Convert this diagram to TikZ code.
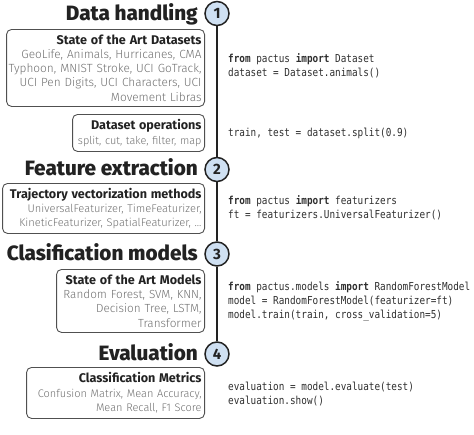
\documentclass[tikz,border=0pt]{standalone}
\usepackage{fontspec}
\setmainfont{Fira Sans}
\newfontfamily\headfont{Fira Sans ExtraBold}
\newfontfamily\bodyfont{Fira Sans Light}
\newfontfamily\codefont[FakeStretch=0.85]{DejaVu Sans Mono}
\definecolor{boxc}{HTML}{505050}
\definecolor{titlec}{HTML}{222222}
\definecolor{bodyc}{HTML}{707070}
\definecolor{codec}{HTML}{2E2E2E}
\definecolor{circfill}{HTML}{CFE0F2}
\tikzset{
  x=1pt, y=-1pt,
  stagetitle/.style={anchor=base east, inner sep=0pt, text=titlec, font=\headfont\fontsize{20.7}{24}\selectfont},
  stagenum/.style={circle, draw=titlec, line width=1.5pt, fill=circfill, minimum size=24pt, inner sep=0pt, text=titlec, font=\fontsize{15}{16}\selectfont\bfseries},
  infobox/.style={draw=boxc, line width=0.9pt, rounded corners=5pt, align=right, anchor=north east, inner xsep=3pt, inner ysep=1pt, text=bodyc},
  bodysize/.style={font=\bodyfont\fontsize{#1}{14.3}\selectfont},
  codeline/.style={anchor=base west, inner sep=0pt, text=codec, font=\codefont\fontsize{11}{14}\selectfont},
  spine/.style={draw=titlec, line width=1.5pt}
}
\newcommand{\bxt}[1]{\makebox[\linewidth][r]{\normalfont\color{titlec}\bfseries\fontsize{12.6}{15}\selectfont #1}}
\newcommand{\rl}[1]{\makebox[\linewidth][r]{#1}}
\begin{document}
\begin{tikzpicture}
\useasboundingbox (0,0) rectangle (474,434);
% stage circles
\node[stagenum] (c1) at (217,13.5) {1};
\node[stagenum] (c2) at (217,169.5) {2};
\node[stagenum] (c3) at (217,254) {3};
\node[stagenum] (c4) at (217,354) {4};
\draw[spine] (c1.south) -- (c2.north);
\draw[spine] (c2.south) -- (c3.north);
\draw[spine] (c3.south) -- (c4.north);
% titles
\node[stagetitle] (t1) at (198,20) {Data handling};
\node[stagetitle] (t2) at (198,175.5) {Feature extraction};
\node[stagetitle] (t3) at (198,260) {Clasification models};
\node[stagetitle] (t4) at (198,360) {Evaluation};
% boxes
\node[infobox, bodysize=11.85, text width=192pt, minimum height=77pt] (b1) at (205,29) {\bxt{State of the Art Datasets}\\
\rl{GeoLife, Animals, Hurricanes, CMA}\\
\rl{Typhoon, MNIST Stroke, UCI GoTrack,}\\
\rl{UCI Pen Digits, UCI Characters, UCI}\\
\rl{Movement Libras}};
\node[infobox, bodysize=10.9, text width=126pt, minimum height=37pt] (b2) at (205,114) {\bxt{Dataset operations}\\
\rl{split, cut, take, filter, map}};
\node[infobox, bodysize=11.1, text width=196pt, minimum height=50pt] (b3) at (205,183) {\bxt{Trajectory vectorization methods}\\
\rl{UniversalFeaturizer, TimeFeaturizer,}\\
\rl{KineticFeaturizer, SpatialFeaturizer, ...}};
\node[infobox, bodysize=11.75, text width=142pt, minimum height=63pt] (b4) at (205,269) {\bxt{State of the Art Models}\\
\rl{Random Forest, SVM, KNN,}\\
\rl{Decision Tree, LSTM,}\\
\rl{Transformer}};
\node[infobox, bodysize=11, text width=172pt, minimum height=51pt] (b5) at (205,367) {\bxt{Classification Metrics}\\
\rl{Confusion Matrix, Mean Accuracy,}\\
\rl{Mean Recall, F1 Score}};
% code
\node[codeline] (k1) at (228,62) {\textbf{from} pactus \textbf{import} Dataset};
\node[codeline] (k2) at (228,76) {dataset = Dataset.animals()};
\node[codeline] (k3) at (228,136) {train, test = dataset.split(0.9)};
\node[codeline] (k4) at (228,204) {\textbf{from} pactus \textbf{import} featurizers};
\node[codeline] (k5) at (228,218) {ft = featurizers.UniversalFeaturizer()};
\node[codeline] (k6) at (228,290) {\textbf{from} pactus.models \textbf{import} RandomForestModel};
\node[codeline] (k7) at (228,304) {model = RandomForestModel(featurizer=ft)};
\node[codeline] (k8) at (228,318) {model.train(train, cross\_validation=5)};
\node[codeline] (k9) at (228,390) {evaluation = model.evaluate(test)};
\node[codeline] (k10) at (228,404) {evaluation.show()};
\end{tikzpicture}
\end{document}
